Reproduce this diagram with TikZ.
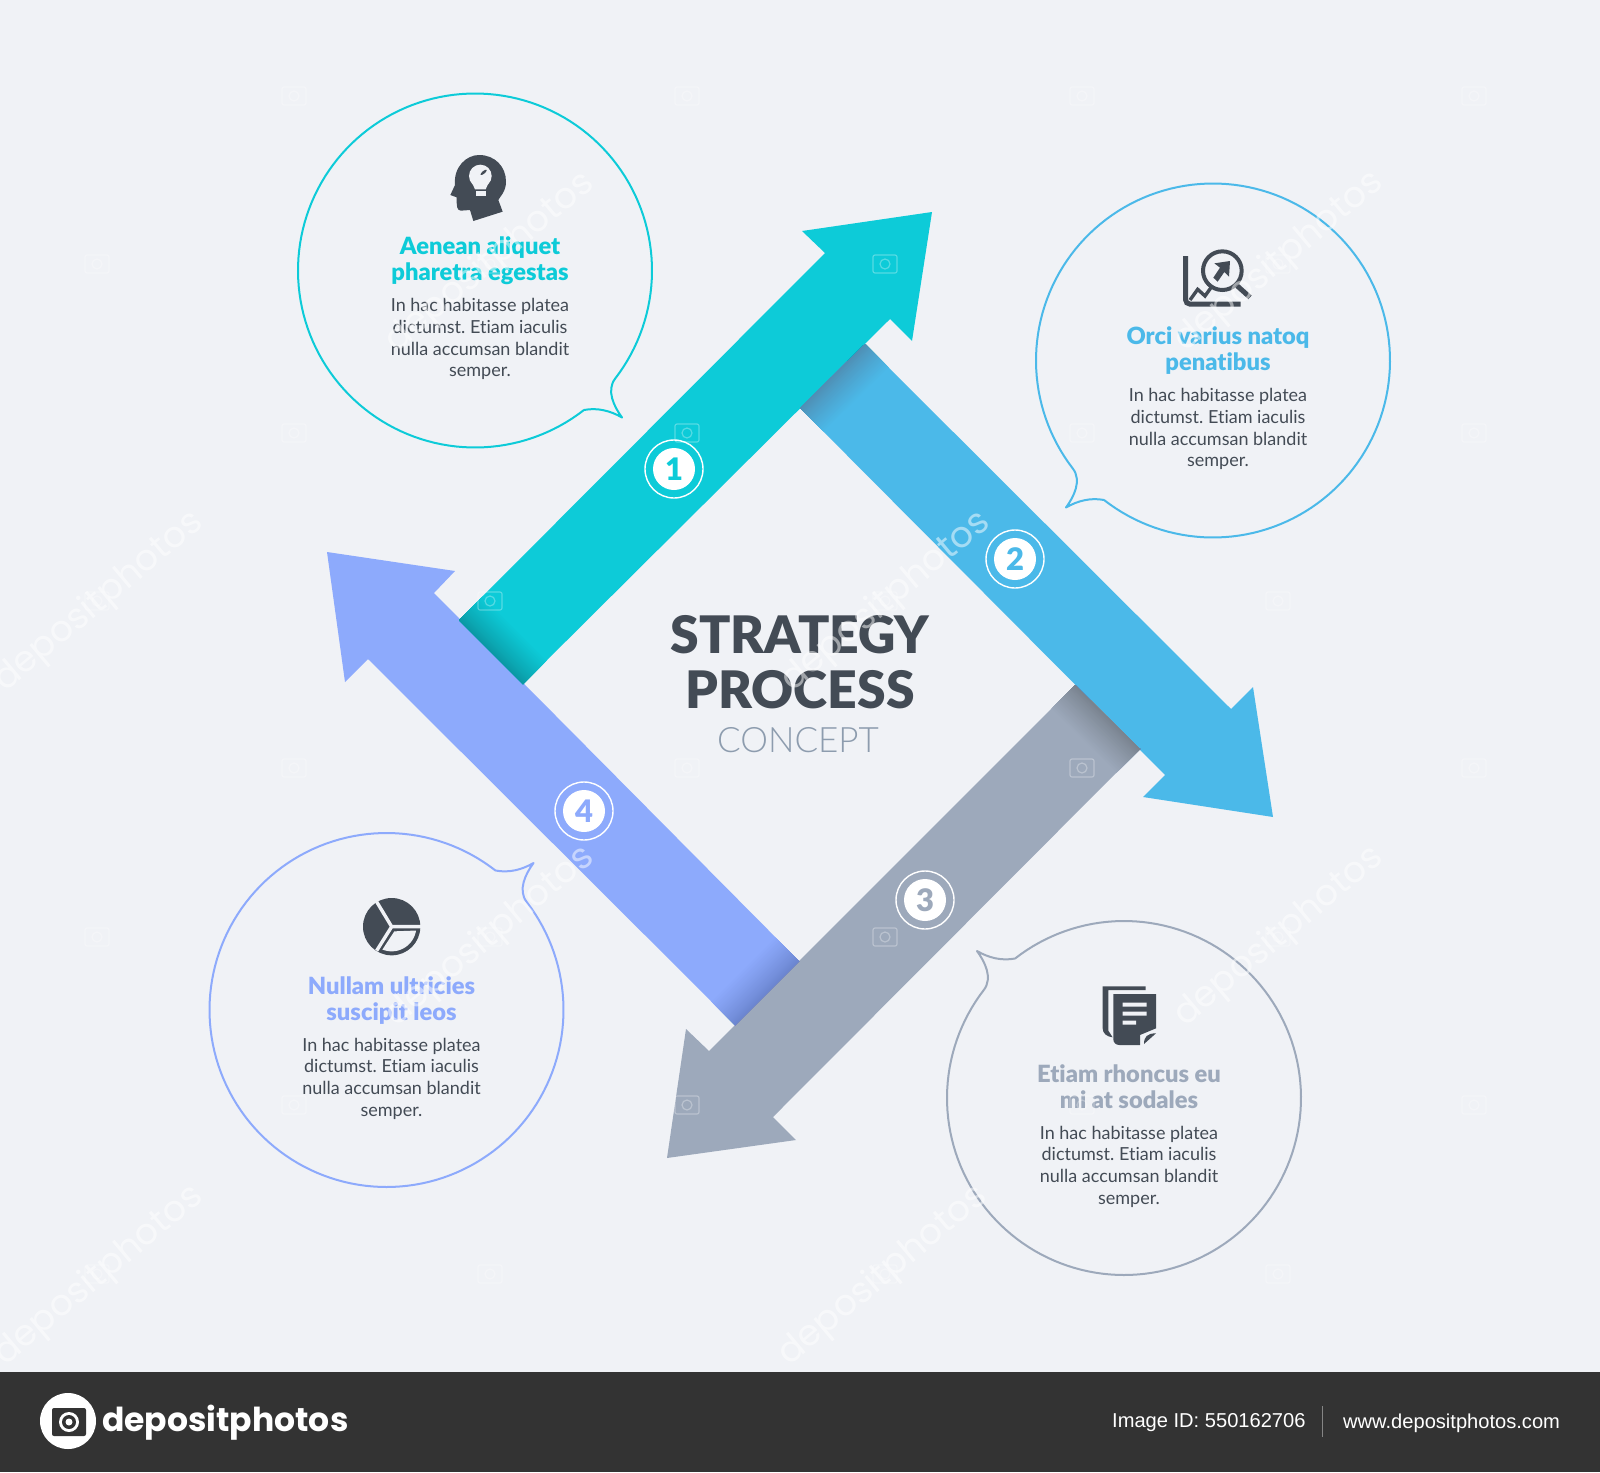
\documentclass[tikz,border=0pt]{standalone}
\usepackage{fontspec}
\setmainfont{Lato}[BoldFont={Lato Black},Ligatures=NoCommon]
\newfontfamily\lightfont{Lato Light}
\newfontfamily\footfont{Liberation Sans}
\newfontfamily\markfont{Poppins}
\usetikzlibrary{positioning}
\frenchspacing

\definecolor{pagecol}{HTML}{F0F2F6}
\definecolor{tealcol}{HTML}{0DCBD8}
\definecolor{tealdark}{HTML}{0A96A1}
\definecolor{skycol}{HTML}{4BB9E9}
\definecolor{skydark}{HTML}{4F8DB2}
\definecolor{greycol}{HTML}{9DA9BB}
\definecolor{greydark}{HTML}{77818D}
\definecolor{lavcol}{HTML}{8DAAFC}
\definecolor{lavdark}{HTML}{6A84CE}
\definecolor{inkcol}{HTML}{434B55}
\definecolor{conceptcol}{HTML}{8D9CAE}
\definecolor{footcol}{HTML}{333333}

\begin{document}
\begin{tikzpicture}[x=1pt,y=-1pt,
    head txt/.style={align=center,inner sep=0pt,text depth=5.5pt,font=\bfseries\fontsize{23.7}{26}\selectfont},
    body txt/.style={align=center,inner sep=0pt,text=inkcol,font=\fontsize{18}{21.6}\selectfont},
    badge/.style={circle,fill=white,inner sep=0pt,minimum size=42pt,font=\bfseries\fontsize{31}{31}\selectfont},
    ring/.style={circle,draw=white,line width=1.4pt,inner sep=0pt,minimum size=58pt},
    title txt/.style={inner sep=0pt,text=inkcol,font=\bfseries\fontsize{51.7}{52}\selectfont},
    foot txt/.style={inner sep=0pt,text=white,font=\footfont\fontsize{20.1}{20}\selectfont},
    mark txt/.style={inner sep=0pt,text=white,opacity=.5,rotate=40,font=\markfont\fontsize{36}{36}\selectfont},
    cam/.style={draw=white,opacity=.3,line width=1.2pt},
    icon/.style={fill=inkcol,draw=none}]

    \useasboundingbox (0,0) rectangle (1600,1472);
    \fill[pagecol] (0,0) rectangle (1600,1472);

    % arrows
    \fill[tealcol] (459,620) -- (523,684) -- (890,319) -- (912,341) -- (932,212) -- (802,231) -- (825,253) -- cycle;
    \fill[skycol] (865,344) -- (1231,709) -- (1253,687) -- (1273,817) -- (1143,797) -- (1165,775) -- (800,408) -- cycle;
    \fill[greycol] (1140,749) -- (773,1117) -- (796,1140) -- (667,1158) -- (686,1029) -- (709,1051) -- (1075,685) -- cycle;
    \fill[lavcol] (735,1025) -- (368,659) -- (345,682) -- (327,552) -- (455,571) -- (434,593) -- (799,961) -- cycle;

    % shadows under the neighbour arrow
    \foreach \ax/\ay/\bx/\by/\dx/\dy/\col/\shd in {
        459/620/523/684/.707/-.707/tealcol/tealdark,
        865/344/800/408/.707/.707/skycol/skydark,
        1140/749/1075/685/-.707/.707/greycol/greydark,
        735/1025/799/961/-.707/-.707/lavcol/lavdark}
        \foreach \i in {34,...,1} {
            \pgfmathtruncatemacro\p{100*(\i/34)^.8}
            \fill[\col!\p!\shd] (\ax,\ay) -- (\bx,\by) -- (\bx+\i*\dx,\by+\i*\dy) -- (\ax+\i*\dx,\ay+\i*\dy) -- cycle;
        }

    % speech bubbles
    \foreach \cx/\cy/\sx/\sy/\col in {475/270.5/1/1/tealcol, 1213/360.5/-1/1/skycol,
                                      1124/1098/-1/-1/greycol, 386.5/1010/1/-1/lavcol} {
        \begin{scope}[shift={(\cx,\cy)},xscale=\sx,yscale=\sy]
            \draw[\col,line width=2pt,line join=round] plot[domain=52:397.6,samples=150] ({177*cos(\x)},{177*sin(\x)})
                .. controls (131,120) and (139,136) .. (147,147)
                .. controls (135,140) and (122,137) .. (109,139.5);
        \end{scope}
    }

    % texts of the bubbles
    \foreach \n/\cx/\cy/\col/\head in {
        a/475/270.5/tealcol/{Aenean aliquet\\pharetra egestas},
        b/1213/360.5/skycol/{Orci varius natoq\\penatibus},
        c/1124/1098/greycol/{Etiam rhoncus eu\\mi at sodales},
        d/386.5/1010/lavcol/{Nullam ultricies\\suscipit leos}} {
        \node[head txt,text=\col] (head\n) at (\cx+5,\cy-9) {\head};
        \node[body txt] (body\n) [below=12pt of head\n] {In hac habitasse platea\\dictumst. Etiam iaculis\\nulla accumsan blandit\\semper.};
    }

    % icon: head with bulb
    \begin{scope}[shift={(290,90)},scale=1/3]
        \fill[icon] (495,285) .. controls (490,230) and (530,195) .. (567,195)
            .. controls (615,195) and (648,230) .. (648,275)
            .. controls (648,305) and (630,320) .. (625,330) -- (638,365) -- (550,393) -- (540,360)
            -- (512,362) .. controls (500,360) and (500,350) .. (500,322) -- (481,315) -- cycle;
        \fill[pagecol] (571,258) circle (34);
        \fill[pagecol] (547,280) -- (595,280) -- (587,298) -- (555,298) -- cycle;
        \fill[pagecol] (557,303) rectangle (587,317);
        \fill[icon,rotate around={40:(581,247)}] (581,247) ellipse (12 and 4);
    \end{scope}

    % icon: chart and lens
    \begin{scope}[shift={(1030,180)},scale=1/3]
        \draw[inkcol,line width=5pt,rounded corners=4pt] (467,228) -- (467,372) -- (632,372);
        \draw[inkcol,line width=3.4pt,line join=miter] (480,360) -- (503,328) -- (525,348) -- (545,320);
        \draw[inkcol,line width=4pt] (577,272) circle (58);
        \draw[inkcol,line width=5pt] (622,318) -- (660,352);
        \fill[icon] (600,243) -- (597,290) -- (583,276) -- (563,305) -- (550,293) -- (570,263) -- (553,250) -- cycle;
    \end{scope}

    % icon: pie
    \begin{scope}[shift={(200,830)},scale=1/3]
        \fill[icon] (575,290) circle (86);
        \fill[pagecol] (583,304) -- plot[domain=9:112,samples=30] ({575+74*cos(\x)},{290+74*sin(\x)}) -- cycle;
        \draw[pagecol,line width=3.4pt] (575,290) -- (528,212) (575,290) -- (665,290) (575,290) -- (530,362);
    \end{scope}

    % icon: documents
    \begin{scope}[shift={(940,920)},scale=1/3]
        \fill[icon] (488,199) -- (617,199) -- (617,210) -- (505,210) -- (505,332) -- (518,352) .. controls (500,350) and (488,340) .. (488,325) -- cycle;
        \fill[icon] (520,222) -- (648,222) -- (648,325) -- (600,345) -- (600,375) -- (538,375) .. controls (528,375) and (520,368) .. (520,358) -- cycle;
        \fill[pagecol] (548,248) rectangle (620,260) (548,275) rectangle (620,287) (548,302) rectangle (588,314);
        \fill[icon] (612,372) .. controls (612,350) and (622,340) .. (648,340) -- cycle;
    \end{scope}

    % numbers on the arrows
    \foreach \n/\cx/\cy/\col in {1/674/469/tealcol, 2/1015/559/skycol, 3/925/900/greycol, 4/584/811/lavcol} {
        \node[badge,text=\col] (num\n) at (\cx,\cy) {\n};
        \node[ring] (ring\n) at (num\n) {};
    }

    % centre title
    \node[title txt] (strategy) at (800,635) {STRATEGY};
    \node[title txt] (process) [below=16pt of strategy] {PROCESS};
    \node[inner sep=0pt,xshift=-2pt,text=conceptcol,font=\lightfont\fontsize{35}{35}\selectfont] (concept) [below=18pt of process] {CONCEPT};

    % watermark
    \foreach \cx/\cy in {294/96,687/96,1082/96,1474/96,294/433,687/433,1082/433,1474/433,
                         294/768,687/768,1082/768,1474/768,294/1105,687/1105,1082/1105,1474/1105,
                         97/264,490/264,885/264,1278/264,97/601,490/601,885/601,1278/601,
                         97/937,490/937,885/937,1278/937,97/1274,490/1274,885/1274,1278/1274} {
        \draw[cam,rounded corners=2pt] (\cx-12,\cy-9) rectangle (\cx+12,\cy+9);
        \draw[cam] (\cx,\cy) circle (5);
    }
    \foreach \n/\cx/\cy in {1/490/263, 2/1279/262, 3/99/602, 4/886/602, 5/490/937, 6/1279/937, 7/99/1276, 8/883/1276}
        \node[mark txt] (mark\n) at (\cx,\cy) {depositphotos};

    % footer
    \fill[footcol] (0,1372) rectangle (1600,1472);
    \node[circle,fill=white,minimum size=56pt,inner sep=0pt] (logo) at (68,1421) {};
    \fill[footcol,rounded corners=2pt] (52,1408) rectangle (86,1436);
    \fill[white] (69,1422) circle (10);
    \fill[footcol] (69,1422) circle (7);
    \fill[white] (69,1422) circle (3.5);
    \node[inner sep=0pt,anchor=west,text=white,font=\markfont\bfseries\fontsize{33}{33}\selectfont] (brand) at (102,1423) {depositphotos};
    \node[foot txt,anchor=west] (imageid) at (1112,1423) {Image ID: 550162706};
    \node[foot txt,anchor=west] (website) at (1343,1423) {www.depositphotos.com};
    \draw[white!40!footcol,line width=.8pt] (1322,1406) -- (1322,1437);
\end{tikzpicture}
\end{document}
